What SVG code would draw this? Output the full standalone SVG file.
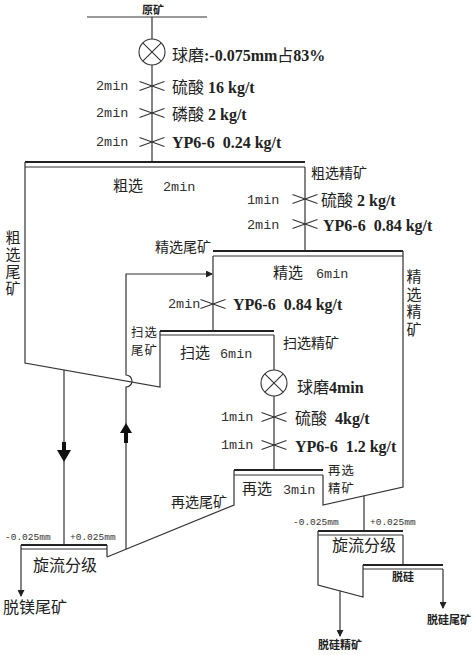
<svg xmlns="http://www.w3.org/2000/svg" width="474" height="655" viewBox="0 0 474 655">
<style>
.ln{stroke:#333;stroke-width:1.2;fill:none}
.tk{stroke:#222;stroke-width:2;fill:none}
.cx{stroke:#333;stroke-width:1.1;fill:none}
.cn{font-family:"Noto Sans CJK SC","Liberation Sans",sans-serif;fill:#222;font-weight:normal}
.vt{writing-mode:vertical-rl;letter-spacing:2px}
.rg{font-family:"Liberation Serif","Noto Sans CJK SC",serif;font-weight:bold;font-size:16px;fill:#222}
.mn{font-family:"Liberation Mono",monospace;font-size:13.5px;fill:#333}
.sm{font-family:"Liberation Mono",monospace;font-size:9.5px;fill:#333}
</style>
<defs>
<marker id="ah" markerWidth="7" markerHeight="7" refX="6" refY="3.5" orient="auto" markerUnits="userSpaceOnUse"><path d="M0,0 L7,3.5 L0,7 Z" fill="#222"/></marker>
<g id="x"><line x1="-12.5" y1="-4.5" x2="12.5" y2="4.5"/><line x1="-12.5" y1="4.5" x2="12.5" y2="-4.5"/></g>
<g id="mill"><circle r="13" fill="#fff"/><line x1="-9.2" y1="-9.2" x2="9.2" y2="9.2"/><line x1="-9.2" y1="9.2" x2="9.2" y2="-9.2"/></g>
</defs>
<rect width="474" height="655" fill="#fff"/>

<g id="connectors" class="ln">
<line x1="87" y1="17" x2="207" y2="17"/>
<line x1="152" y1="17" x2="152" y2="162"/>
<line x1="305" y1="167" x2="305" y2="251"/>
<line x1="213" y1="256" x2="213" y2="331"/>
<line x1="274" y1="335" x2="274" y2="470"/>
<path d="M126,549 V387 A6,6 0 0 0 126,375 V274 H212" marker-end="url(#ah)"/>
<line x1="64" y1="370" x2="64" y2="545"/>
<line x1="21" y1="549" x2="21" y2="596" marker-end="url(#ah)"/>
<line x1="364" y1="496" x2="364" y2="531"/>
<line x1="403" y1="535" x2="403" y2="565"/>
<line x1="443" y1="569" x2="443" y2="608" marker-end="url(#ah)"/>
<line x1="340" y1="591" x2="340" y2="636" marker-end="url(#ah)"/>
<path d="M62,442 h4 v8 h5 l-7,12 l-7,-12 h5 z" fill="#111" stroke="none"/>
<path d="M124,443 v-10 h-4 l6,-10 l6,10 h-4 v10 z" fill="#111" stroke="none"/>
</g>

<g id="feed">
<text class="cn" x="142" y="14" font-size="11" style="font-weight:bold">原矿</text>
</g>

<g id="mill1" class="cx">
<use href="#mill" x="152" y="52"/>
<text class="rg" x="172" y="61" stroke="none"><tspan class="cn">球磨</tspan>:-0.075mm<tspan class="cn">占</tspan>83%</text>
</g>

<g id="reagents1" class="cx">
<use href="#x" x="152" y="86"/>
<use href="#x" x="152" y="113"/>
<use href="#x" x="152" y="142"/>
<g stroke="none">
<text class="mn" x="96" y="90">2min</text>
<text class="mn" x="96" y="117">2min</text>
<text class="mn" x="96" y="146">2min</text>
<text class="rg" x="172" y="93"><tspan class="cn">硫酸</tspan> 16 kg/t</text>
<text class="rg" x="172" y="120"><tspan class="cn">磷酸</tspan> 2 kg/t</text>
<text class="rg" x="172" y="148" xml:space="preserve">YP6-6  0.24 kg/t</text>
</g>
</g>

<g id="rougher">
<line class="tk" x1="25" y1="162" x2="305" y2="162"/>
<line class="ln" x1="25" y1="167" x2="305" y2="167"/>
<path class="ln" d="M25,162 V363 L160,387 V331"/>
<text class="cn" x="113" y="191" font-size="15">粗选</text>
<text class="mn" x="163" y="191">2min</text>
<text class="cn" x="311" y="178" font-size="14">粗选精矿</text>
<text class="cn vt" x="13" y="230" font-size="15">粗选尾矿</text>
</g>

<g id="reagents2" class="cx">
<use href="#x" x="305" y="199"/>
<use href="#x" x="305" y="224"/>
<g stroke="none">
<text class="mn" x="247" y="204">1min</text>
<text class="mn" x="247" y="229">2min</text>
<text class="rg" x="321" y="206"><tspan class="cn">硫酸</tspan> 2 kg/t</text>
<text class="rg" x="323" y="231" xml:space="preserve">YP6-6  0.84 kg/t</text>
</g>
</g>

<g id="cleaner">
<line class="tk" x1="213" y1="251" x2="403" y2="251"/>
<line class="ln" x1="213" y1="256" x2="403" y2="256"/>
<path class="ln" d="M403,251 V487 L323,505 V475"/>
<text class="cn" x="155" y="252" font-size="14">精选尾矿</text>
<text class="cn" x="273" y="278" font-size="15">精选</text>
<text class="mn" x="316" y="278">6min</text>
<text class="cn vt" x="414" y="269" font-size="15" style="letter-spacing:2.5px">精选精矿</text>
</g>

<g id="reagents3" class="cx">
<use href="#x" x="213" y="304"/>
<g stroke="none">
<text class="mn" x="168" y="308">2min</text>
<text class="rg" x="233" y="310" xml:space="preserve">YP6-6  0.84 kg/t</text>
</g>
</g>

<g id="scavenger">
<line class="tk" x1="160" y1="331" x2="274" y2="331"/>
<line class="ln" x1="160" y1="335" x2="274" y2="335"/>
<text class="cn" x="131" y="337" font-size="12.4" textLength="26">扫选</text>
<text class="cn" x="131" y="355" font-size="12.4" textLength="26">尾矿</text>
<text class="cn" x="180" y="358" font-size="15">扫选</text>
<text class="mn" x="220" y="358">6min</text>
<text class="cn" x="283" y="348" font-size="14">扫选精矿</text>
</g>

<g id="mill2" class="cx">
<use href="#mill" x="274" y="383"/>
<text class="rg" x="297" y="393" stroke="none"><tspan class="cn">球磨</tspan>4min</text>
</g>

<g id="reagents4" class="cx">
<use href="#x" x="274" y="417"/>
<use href="#x" x="274" y="445"/>
<g stroke="none">
<text class="mn" x="221" y="421">1min</text>
<text class="mn" x="221" y="449">1min</text>
<text class="rg" x="295" y="424" xml:space="preserve"><tspan class="cn">硫酸</tspan>  4kg/t</text>
<text class="rg" x="295" y="452" xml:space="preserve">YP6-6  1.2 kg/t</text>
</g>
</g>

<g id="recleaner">
<line class="tk" x1="234" y1="470" x2="323" y2="470"/>
<line class="ln" x1="234" y1="475" x2="323" y2="475"/>
<path class="ln" d="M234,470 V505 L107,557"/>
<text class="cn" x="242" y="494" font-size="15">再选</text>
<text class="mn" x="283" y="494">3min</text>
<text class="cn" x="328" y="475" font-size="12.4" textLength="26">再选</text>
<text class="cn" x="328" y="493" font-size="12.4" textLength="26">精矿</text>
<text class="cn" x="171" y="507" font-size="14">再选尾矿</text>
</g>

<g id="cyclone1">
<line class="tk" x1="21" y1="545" x2="107" y2="545"/>
<line class="ln" x1="21" y1="549" x2="107" y2="549"/>
<path class="ln" d="M21,545 V549 M107,545 V557"/>
<text class="sm" x="5" y="540">-0.025mm</text>
<text class="sm" x="70" y="540">+0.025mm</text>
<text class="cn" x="33" y="571" font-size="16">旋流分级</text>
<text class="cn" x="3" y="613" font-size="16">脱镁尾矿</text>
</g>

<g id="cyclone2">
<line class="tk" x1="318" y1="531" x2="403" y2="531"/>
<line class="ln" x1="318" y1="535" x2="403" y2="535"/>
<path class="ln" d="M318,531 V585 L363,597 V565"/>
<text class="sm" x="293" y="525">-0.025mm</text>
<text class="sm" x="370" y="525">+0.025mm</text>
<text class="cn" x="332" y="551" font-size="16">旋流分级</text>
</g>

<g id="desilication">
<line class="tk" x1="363" y1="565" x2="443" y2="565"/>
<line class="ln" x1="363" y1="569" x2="443" y2="569"/>
<text class="cn" x="392" y="581" font-size="11" style="font-weight:bold">脱硅</text>
<text class="cn" x="427" y="624" font-size="11" style="font-weight:bold">脱硅尾矿</text>
<text class="cn" x="318" y="649" font-size="11" style="font-weight:bold">脱硅精矿</text>
</g>
</svg>
